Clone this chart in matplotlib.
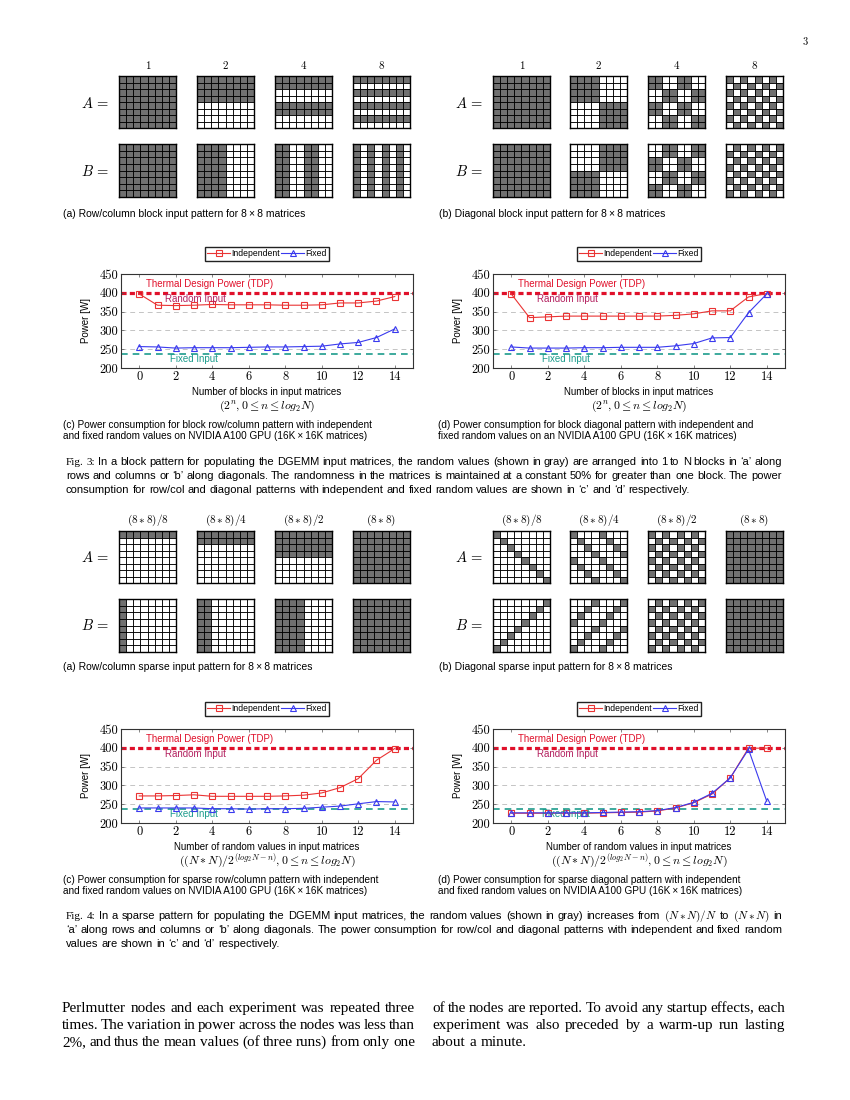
import numpy as np
import matplotlib
matplotlib.use("Agg")
import matplotlib.pyplot as plt
from matplotlib.colors import ListedColormap

plt.rcParams['mathtext.fontset'] = 'cm'
plt.rcParams['font.family'] = ['Liberation Sans', 'DejaVu Sans']

W, H = 850, 1100

# ---- data ----
steps = list(range(15))

# Fig. 3 (c) block row/column
blk_rc_indep = [397, 367, 366, 367, 369, 368, 368, 368, 367, 367, 368, 373, 373, 378, 390]
blk_rc_fixed = [257, 256, 253, 254, 254, 254, 255, 256, 256, 257, 258, 264, 268, 281, 304]
# Fig. 3 (d) block diagonal
blk_dg_indep = [397, 334, 336, 338, 338, 338, 338, 338, 338, 340, 344, 352, 352, 389, 398]
blk_dg_fixed = [256, 253, 253, 253, 254, 254, 255, 255, 255, 259, 265, 280, 281, 347, 397]
# Fig. 4 (c) sparse row/column
sp_rc_indep = [272, 272, 273, 275, 271, 271, 271, 271, 272, 274, 280, 294, 318, 367, 398]
sp_rc_fixed = [240, 240, 240, 240, 238, 238, 237, 238, 238, 239, 242, 245, 251, 257, 256]
# Fig. 4 (d) sparse diagonal
sp_dg_indep = [226, 226, 226, 226, 226, 227, 228, 229, 232, 240, 254, 277, 320, 399, 399]
sp_dg_fixed = [227, 227, 227, 227, 227, 228, 229, 230, 233, 241, 255, 279, 320, 396, 258]

tdp_power = 400
fixed_input_power = 238

y_ticks = [200, 250, 300, 350, 400, 450]
x_ticks = [0, 2, 4, 6, 8, 10, 12, 14]

block_counts = [1, 2, 4, 8]
block_labels = ['1', '2', '4', '8']
sparse_divs = [8, 4, 2, 1]
sparse_labels = [r'$(8*8)/8$', r'$(8*8)/4$', r'$(8*8)/2$', r'$(8*8)$']

RED = '#ea3434'
BLUE = '#3a3aee'
TDP_RED = '#e0102a'
TEAL = '#1c9c8c'
GRAY_CELL = '#707070'

fig = plt.figure(figsize=(W / 100, H / 100), dpi=100)
fig.patch.set_facecolor('white')


def rect(x, y, w, h):
    return [x / W, 1 - (y + h) / H, w / W, h / H]


def ftext(x, y, s, **kw):
    return fig.text(x / W, 1 - y / H, s, **kw)


# ---- pattern helpers (which cells are random/gray) ----
def row_block(n):
    s = 8 // n
    a = np.array([[1 if (i // s) % 2 == 0 else 0 for j in range(8)] for i in range(8)])
    return a, a.T


def diag_block(n):
    s = 8 // n
    a = np.array([[1 if (i // s + j // s) % 2 == 0 else 0 for j in range(8)] for i in range(8)])
    b = np.array([[1 if (i // s + (7 - j) // s) % 2 == 0 else 0 for j in range(8)] for i in range(8)])
    return a, b


def row_sparse(p):
    k = 8 // p
    a = np.array([[1 if i < k else 0 for j in range(8)] for i in range(8)])
    return a, a.T


def diag_sparse(p):
    a = np.array([[1 if (i - j) % p == 0 else 0 for j in range(8)] for i in range(8)])
    b = np.array([[1 if (i + j - 7) % p == 0 else 0 for j in range(8)] for i in range(8)])
    return a, b


cell_cmap = ListedColormap(['white', GRAY_CELL])


def draw_matrix(x, y, w, h, m):
    ax = fig.add_axes(rect(x, y, w, h))
    ax.pcolormesh(np.arange(9), np.arange(9), m, cmap=cell_cmap, vmin=0, vmax=1,
                  edgecolors='none', antialiased=False)
    for k in range(1, 8):
        ax.axhline(k, color='black', lw=0.65)
        ax.axvline(k, color='black', lw=0.65)
    ax.set_xlim(0, 8)
    ax.set_ylim(8, 0)
    ax.set_xticks([])
    ax.set_yticks([])
    for sp in ax.spines.values():
        sp.set_linewidth(1.0)


def pattern_panel(xs, top_a, top_b, pats, labels, lab_y, eq_x, caption, cap_x, cap_y):
    for x, (a, b), lab in zip(xs, pats, labels):
        draw_matrix(x, top_a, 57, 52, a)
        draw_matrix(x, top_b, 57, 53, b)
        ftext(x + 28.5, lab_y, lab, fontsize=8, family='cmr10', ha='center', va='center')
    ftext(eq_x, top_a + 27, r'$A\,=$', fontsize=10.5, ha='center', va='center')
    ftext(eq_x, top_b + 27, r'$B\,=$', fontsize=10.5, ha='center', va='center')
    ftext(cap_x, cap_y, caption, fontsize=7.5, ha='left', va='baseline')


xs_left = [119, 197, 275, 353]
xs_right = [493, 570, 648, 726]
times8 = '8\u2009×\u20098'

pattern_panel(xs_left, 76, 144, [row_block(n) for n in block_counts], block_labels, 66, 95,
              f'(a) Row/column block input pattern for {times8} matrices', 63, 217)
pattern_panel(xs_right, 76, 144, [diag_block(n) for n in block_counts], block_labels, 66, 469,
              f'(b) Diagonal block input pattern for {times8} matrices', 439, 217)
pattern_panel(xs_left, 531, 599, [row_sparse(p) for p in sparse_divs], sparse_labels, 520, 95,
              f'(a) Row/column sparse input pattern for {times8} matrices', 63, 670)
pattern_panel(xs_right, 531, 599, [diag_sparse(p) for p in sparse_divs], sparse_labels, 520, 469,
              f'(b) Diagonal sparse input pattern for {times8} matrices', 439, 670)


# ---- power charts ----
def power_chart(x, y, indep, fixed, xlab1, xlab2, cap_lines, cap_x, cap_y):
    w, h = 292, 94
    ax = fig.add_axes(rect(x, y, w, h))
    ax.set_xlim(-1, 15)
    ax.set_ylim(200, 450)
    for g in [250, 300, 350]:
        ax.axhline(g, color='#c4c4c4', lw=0.7, ls=(0, (5, 4)), zorder=0)
    ax.axhline(tdp_power, color=TDP_RED, lw=2.3, ls=(0, (1.6, 1.0)), zorder=1)
    ax.axhline(fixed_input_power, color=TEAL, lw=1.2, ls=(0, (4, 3)), zorder=1)
    ax.plot(steps, indep, color=RED, marker='s', mfc='none', mec=RED, ms=4.5, mew=0.8,
            lw=0.8, label='Independent', zorder=3)
    ax.plot(steps, fixed, color=BLUE, marker='^', mfc='none', mec=BLUE, ms=4.5, mew=0.8,
            lw=0.8, label='Fixed', zorder=4)
    ax.text(0.35, 423, 'Thermal Design Power (TDP)', color=TDP_RED, fontsize=7, va='center')
    ax.text(1.4, 383.5, 'Random Input', color='#b3205f', fontsize=7, va='center')
    ax.text(1.7, 224, 'Fixed Input', color=TEAL, fontsize=7, va='center')
    ax.set_xticks(x_ticks, labels=[str(t) for t in x_ticks], fontfamily='cmr10', fontsize=9)
    ax.set_yticks(y_ticks, labels=[str(t) for t in y_ticks], fontfamily='cmr10', fontsize=9)
    ax.tick_params(direction='in', length=2, width=0.5, color='#555555', pad=2,
                   top=True, right=True)
    for sp in ax.spines.values():
        sp.set_linewidth(0.8)
        sp.set_color('#333333')
    ax.legend(loc='lower center', bbox_to_anchor=(0.5, 1.14), ncol=2, fontsize=6.2,
              frameon=True, fancybox=False, edgecolor='#222222', framealpha=1,
              handlelength=2.6, handletextpad=0.15, columnspacing=0.2, borderpad=0.3,
              borderaxespad=0)
    ftext(x - 35, y + h / 2, 'Power [W]', fontsize=7, rotation=90, ha='center', va='center')
    ftext(x + w / 2, y + 118, xlab1, fontsize=7, ha='center', va='center')
    ftext(x + w / 2, y + 135, xlab2, fontsize=8.5, ha='center', va='baseline')
    for i, line in enumerate(cap_lines):
        ftext(cap_x, cap_y + i * 10.7, line, fontsize=7.2, ha='left', va='baseline')


xl_blocks = 'Number of blocks in input matrices'
xl2_blocks = r'$(2^n, 0 \leq n \leq log_2N)$'
xl_sparse = 'Number of random values in input matrices'
xl2_sparse = r'$((N*N)/2^{(log_2N-n)}, 0 \leq n \leq log_2N)$'
x16k = '16K\u2009×\u200916K'

power_chart(121, 274, blk_rc_indep, blk_rc_fixed, xl_blocks, xl2_blocks,
            ['(c) Power consumption for block row/column pattern with independent',
             f'and fixed random values on NVIDIA A100 GPU ({x16k} matrices)'], 63, 428)
power_chart(493, 274, blk_dg_indep, blk_dg_fixed, xl_blocks, xl2_blocks,
            ['(d) Power consumption for block diagonal pattern with independent and',
             f'fixed random values on an NVIDIA A100 GPU ({x16k} matrices)'], 438, 428)
power_chart(121, 729, sp_rc_indep, sp_rc_fixed, xl_sparse, xl2_sparse,
            ['(c) Power consumption for sparse row/column pattern with independent',
             f'and fixed random values on NVIDIA A100 GPU ({x16k} matrices)'], 63, 883)
power_chart(493, 729, sp_dg_indep, sp_dg_fixed, xl_sparse, xl2_sparse,
            ['(d) Power consumption for sparse diagonal pattern with independent',
             f'and fixed random values on NVIDIA A100 GPU ({x16k} matrices)'], 438, 883)

# ---- justified text lines ----
fig.canvas.draw()
renderer = fig.canvas.get_renderer()


def put_line(tokens, x0, y, x1=None, size=7.0):
    objs = [ftext(0, 0, t, fontsize=size, family=f, ha='left', va='baseline') for t, f in tokens]
    widths = [o.get_window_extent(renderer).width for o in objs]
    if x1 is None or len(objs) < 2:
        gap = size * 100 / 72 * 0.28
    else:
        gap = (x1 - x0 - sum(widths)) / (len(objs) - 1)
    xp = x0
    for o, wd in zip(objs, widths):
        o.set_position((xp / W, 1 - y / H))
        xp += wd + gap


SANS = ['Liberation Sans', 'DejaVu Sans']
SERIF = ['Liberation Serif', 'DejaVu Serif']


def toks(s, fam):
    return [(t, fam) for t in s.split(' ')]


cap3 = [
    toks('Fig. 3:', SERIF) + toks('In a block pattern for populating the DGEMM input matrices, the random values '
                                 '(shown in gray) are arranged into 1 to N blocks in ‘a’ along', SANS),
    toks('rows and columns or ‘b’ along diagonals. The randomness in the matrices is maintained at a constant '
         '50% for greater than one block. The power', SANS),
    toks('consumption for row/col and diagonal patterns with independent and fixed random values are shown in '
         '‘c’ and ‘d’ respectively.', SANS),
]
cap4 = [
    toks('Fig. 4:', SERIF) + toks('In a sparse pattern for populating the DGEMM input matrices, the random values '
                                 '(shown in gray) increases from $(N*N)/N$ to $(N*N)$ in', SANS),
    toks('‘a’ along rows and columns or ‘b’ along diagonals. The power consumption for row/col and diagonal '
         'patterns with independent and fixed random', SANS),
    toks('values are shown in ‘c’ and ‘d’ respectively.', SANS),
]
for i, line in enumerate(cap3):
    put_line(line, 66, 465 + i * 14, 782 if i < 2 else None, size=8.0)
for i, line in enumerate(cap4):
    put_line(line, 66, 919 + i * 14, 782 if i < 2 else None, size=8.0)

body_left = ['Perlmutter nodes and each experiment was repeated three',
             'times. The variation in power across the nodes was less than',
             '2%, and thus the mean values (of three runs) from only one']
body_right = ['of the nodes are reported. To avoid any startup effects, each',
              'experiment was also preceded by a warm-up run lasting',
              'about a minute.']
for i, line in enumerate(body_left):
    put_line(toks(line, SERIF), 62, 1012 + i * 17, 415, size=10.9)
for i, line in enumerate(body_right):
    put_line(toks(line, SERIF), 432, 1012 + i * 17, 785 if i < 2 else None, size=10.9)

ftext(805, 42, '3', fontsize=7.5, family='cmr10', ha='center', va='center')

fig.savefig('out.png', dpi=100, facecolor='white')
